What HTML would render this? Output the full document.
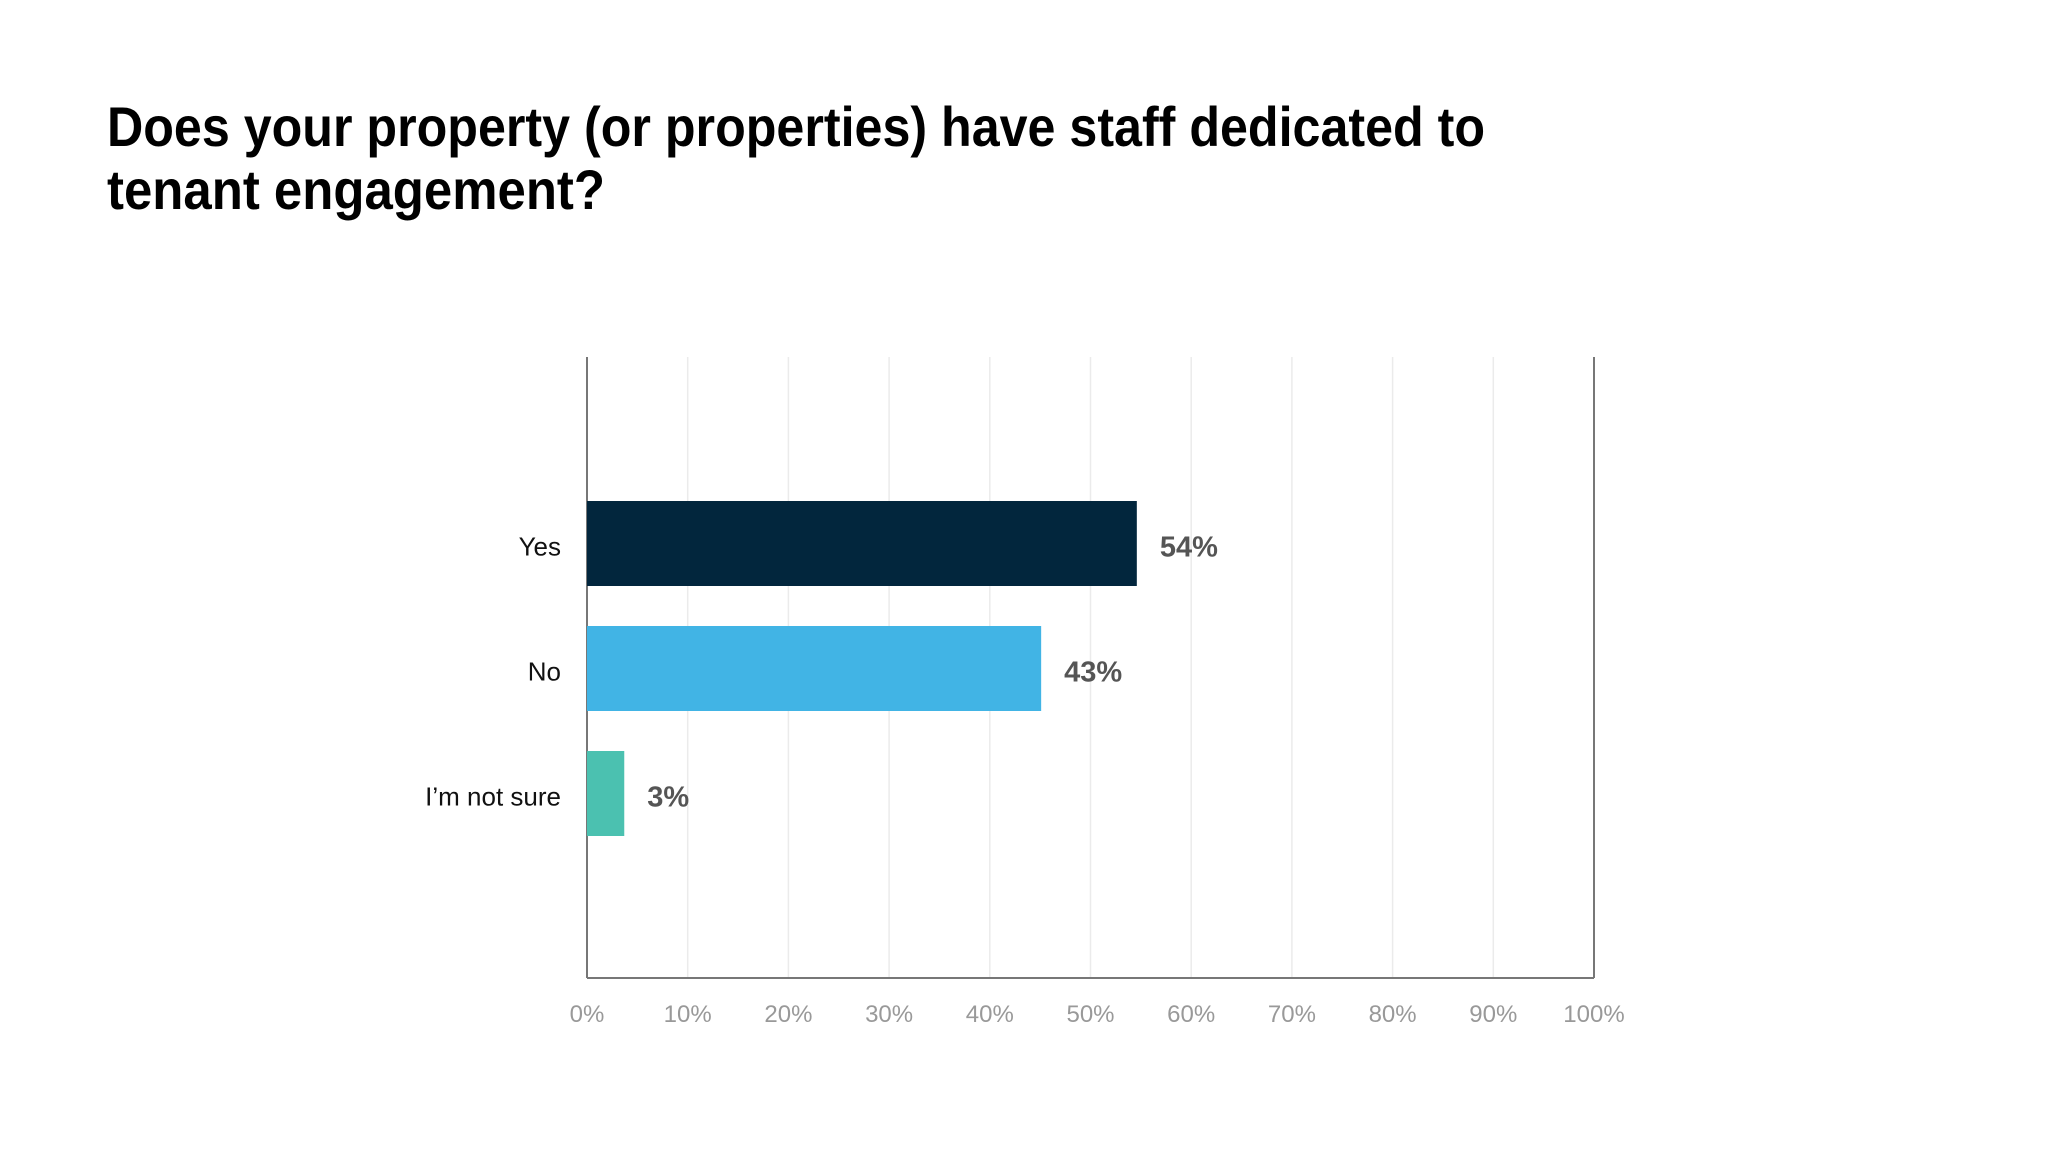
<!DOCTYPE html>
<html><head><meta charset="utf-8"><style>
html,body{margin:0;padding:0;background:#fff;}
svg{display:block;font-family:"Liberation Sans",sans-serif;}
</style></head><body>
<svg id="chart" width="2048" height="1152">
<text x="107" y="146" font-size="56" font-weight="bold" fill="#000" textLength="1378" lengthAdjust="spacingAndGlyphs">Does your property (or properties) have staff dedicated to</text>
<text x="107" y="209" font-size="56" font-weight="bold" fill="#000" textLength="498" lengthAdjust="spacingAndGlyphs">tenant engagement?</text>
<g id="grid"></g><g id="bars"></g><g id="labels"></g>
</svg>
<script>
const categories = ["Yes", "No", "I\u2019m not sure"];
const values = [54.6, 45.1, 3.7];
const valueLabels = ["54%", "43%", "3%"];
const ticks = [0,10,20,30,40,50,60,70,80,90,100];
const tickLabels = ["0%","10%","20%","30%","40%","50%","60%","70%","80%","90%","100%"];
const colors = ["#02263d", "#41b4e5", "#4bc1b0"];

const X0=587, X1=1594, YT=357, YB=978;
const x = v => X0 + (v/100)*(X1-X0);
const rowStep=125, barH=85, firstCenter=543.5;
const yc = i => firstCenter + i*rowStep;
const NS="http://www.w3.org/2000/svg";
function mk(tag, attrs, parent){const e=document.createElementNS(NS,tag);for(const k in attrs)e.setAttribute(k,attrs[k]);parent.appendChild(e);return e;}
const g=document.getElementById('grid'), b=document.getElementById('bars'), l=document.getElementById('labels');
ticks.forEach((t,i)=>{
  const edge = (i===0||i===ticks.length-1);
  const ln=mk('line',{x1:x(t),x2:x(t),y1:YT,y2:YB,stroke:edge?'#777':'#ebebeb','stroke-width':edge?2:1.5},g);
  
  
  const tx=mk('text',{x:x(t),y:1022,'font-size':24,fill:'#999','text-anchor':'middle'},l);
  tx.textContent=tickLabels[i];
  
  
});
const base=mk('line',{x1:X0,x2:X1,y1:YB,y2:YB,stroke:'#777','stroke-width':2},g);


categories.forEach((c,i)=>{
  const r=mk('rect',{x:X0,y:yc(i)-barH/2,width:x(values[i])-X0,height:barH,fill:colors[i]},b);
  
  
  const cl=mk('text',{x:561,y:yc(i)+12,'font-size':26,fill:'#111','text-anchor':'end'},l);
  cl.textContent=c;
  
  
  const vl=mk('text',{x:x(values[i])+23,y:yc(i)+13,'font-size':29,'font-weight':'bold',fill:'#555'},l);
  vl.textContent=valueLabels[i];
  
  
});
</script>
</body></html>
